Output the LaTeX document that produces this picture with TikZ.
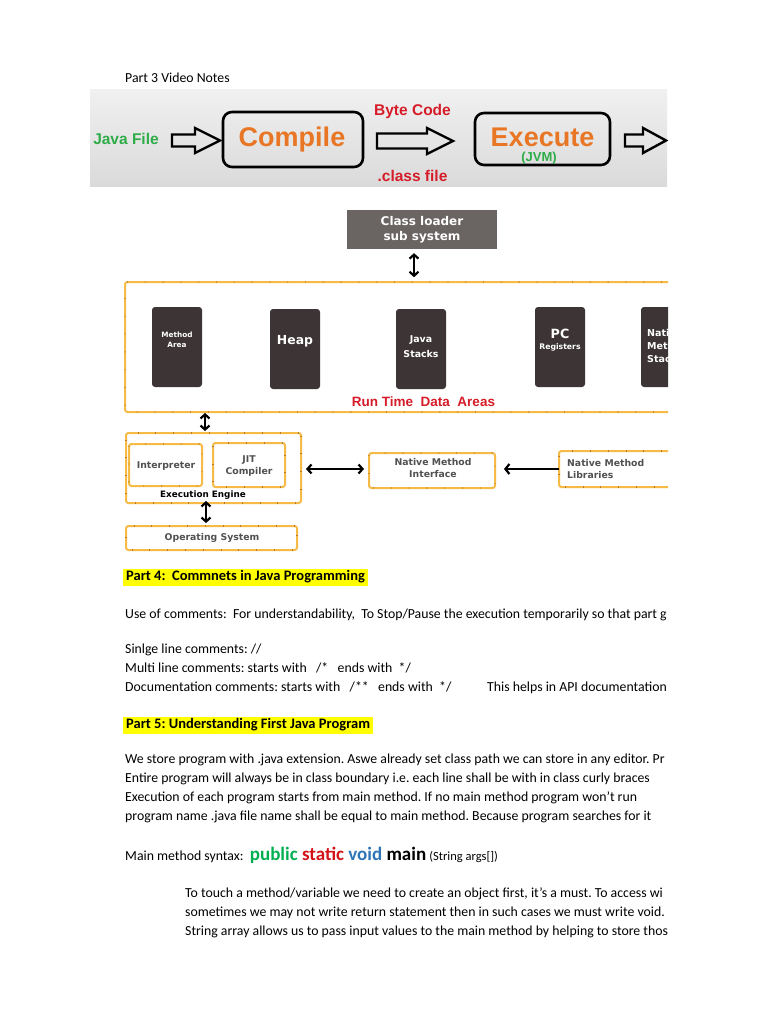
\documentclass[tikz,border=0pt]{standalone}
\usepackage{fontspec}
\setmainfont{Carlito}
\newfontfamily\arialf{Liberation Sans}
\newfontfamily\verd{DejaVu Sans}
\usetikzlibrary{arrows.meta}
\definecolor{orangeB}{RGB}{246,186,70}
\definecolor{tickc}{RGB}{175,125,45}
\definecolor{darkbox}{RGB}{61,53,53}
\definecolor{clsbox}{RGB}{106,100,99}
\definecolor{txtorange}{RGB}{232,118,36}
\definecolor{jgreen}{RGB}{45,172,72}
\definecolor{jred}{RGB}{214,28,40}
\definecolor{gtxt}{RGB}{80,80,80}
\definecolor{hlyellow}{RGB}{255,255,0}
\definecolor{pubgreen}{RGB}{0,176,80}
\definecolor{statred}{RGB}{210,20,25}
\definecolor{voidblue}{RGB}{46,117,182}
\definecolor{bannerA}{RGB}{240,240,240}
\definecolor{bannerB}{RGB}{218,218,218}
\begin{document}
\begin{tikzpicture}[x=1pt,y=-1pt,
  body/.style={anchor=base west, inner sep=0pt, font=\frenchspacing\fontsize{13.8}{19.4}\selectfont},
  head/.style={anchor=base west, inner xsep=3pt, inner ysep=2.5pt, text height=8.5pt, text depth=3pt, fill=hlyellow, font=\frenchspacing\bfseries\fontsize{14.5}{19.4}\selectfont},
  blackbox/.style={draw=black, line width=2.6pt, rounded corners=9pt, inner sep=0pt},
  blockarrow/.style={draw=black, line width=2.4pt, line join=miter},
  bantext/.style={inner sep=0pt, font=\arialf\bfseries},
  darkrect/.style={fill=darkbox, rounded corners=3pt, inner sep=0pt, minimum width=50pt, minimum height=80pt},
  darklabel/.style={inner sep=0pt, text=white, align=center},
  obox/.style={draw=orangeB, line width=2pt, rounded corners=2.5pt, inner sep=0pt,
     postaction={draw=tickc, line width=1.2pt, dash pattern=on 0.8pt off 17pt}},
  olabel/.style={inner sep=0pt, text=gtxt, align=center, font=\verd\bfseries\fontsize{9.3}{12}\selectfont},
  dbl/.style={draw=black, line width=2.2pt, {Straight Barb[length=4pt,width=9pt]}-{Straight Barb[length=4pt,width=9pt]}},
  sgl/.style={draw=black, line width=2.2pt, -{Straight Barb[length=4pt,width=10pt]}}
]
\useasboundingbox (0,0) rectangle (768,1024);
\fill[white] (0,0) rectangle (768,1024);
\begin{scope}
\clip (0,0) rectangle (668,1024);

% ---------- title ----------
\node[body] (t3) at (125,83) {Part 3 Video Notes};

% ---------- banner ----------
\node[inner sep=0pt, minimum width=577pt, minimum height=97pt, top color=bannerA, bottom color=bannerB] (banner) at (378.5,138.5) {};
\node[bantext, text=jgreen, font=\arialf\bfseries\fontsize{15.5}{18}\selectfont] (jf) at (126,139) {Java File};
\draw[blockarrow] (172,134.5) -- (195,134.5) -- (195,128) -- (220,140.5) -- (195,153) -- (195,146.5) -- (172,146.5) -- cycle;
\node[blackbox, minimum width=140pt, minimum height=55pt] (comp) at (293,139.5) {};
\node[bantext, text=txtorange, font=\arialf\bfseries\fontsize{27}{30}\selectfont] (compt) at (292,139.5) {Compile};
\node[bantext, text=jred, font=\arialf\bfseries\fontsize{15.5}{18}\selectfont] (bc) at (412.5,111) {Byte Code};
\node[bantext, text=jred, font=\arialf\bfseries\fontsize{15.5}{18}\selectfont] (cf) at (412.5,176) {.class file};
\draw[blockarrow] (377,133.5) -- (427,133.5) -- (427,128) -- (453,141) -- (427,154) -- (427,148.5) -- (377,148.5) -- cycle;
\node[blackbox, minimum width=135pt, minimum height=52pt] (exe) at (542.5,139) {};
\node[bantext, text=txtorange, font=\arialf\bfseries\fontsize{27}{30}\selectfont] (exet) at (542.5,137.5) {Execute};
\node[bantext, text=jgreen, font=\arialf\bfseries\fontsize{13}{15}\selectfont] (jvm) at (539,158.5) {(JVM)};
\draw[blockarrow] (625,134.5) -- (643,134.5) -- (643,128) -- (666,140.5) -- (643,153) -- (643,146.5) -- (625,146.5) -- cycle;

% ---------- JVM architecture ----------
\node[fill=clsbox, inner sep=0pt, minimum width=150pt, minimum height=39pt, text=white, align=center,
      font=\verd\bfseries\fontsize{12}{15}\selectfont] (cl) at (422,229.5) {Class loader\\sub system};
\node[obox, minimum width=575pt, minimum height=130pt] (rt) at (412.5,347) {};
\draw[dbl] ([xshift=-8pt,yshift=-4pt]cl.south) -- ([xshift=-8pt,yshift=-28pt]cl.south);

\node[darkrect] (ma) at (177,347) {};
\node[darkrect] (hp) at (295,349) {};
\node[darkrect] (js) at (421,349) {};
\node[darkrect] (pc) at (560,347) {};
\node[darkrect] (ns) at (666,347) {};
\node[darklabel, font=\verd\bfseries\fontsize{7.3}{10}\selectfont] (mat) at (177,340) {Method\\Area};
\node[darklabel, font=\verd\bfseries\fontsize{12.4}{14}\selectfont] (hpt) at (295,341) {Heap};
\node[darklabel, font=\verd\bfseries\fontsize{9.4}{15}\selectfont] (jst) at (421,346.5) {Java\\Stacks};
\node[darklabel, font=\verd\bfseries\fontsize{12.7}{14}\selectfont] (pct) at (560,334) {PC};
\node[darklabel, font=\verd\bfseries\fontsize{7.7}{10}\selectfont] (pcr) at (560,347) {Registers};
\node[darklabel, anchor=west, align=left, font=\verd\bfseries\fontsize{9.5}{13}\selectfont] (nst) at (647,346) {Native\\Method\\Stacks};
\node[inner sep=0pt, text=jred, font=\arialf\bfseries\fontsize{13.5}{15}\selectfont] (rtt) at (423.5,402) {Run Time\ \ Data\ \ Areas};

\node[obox, minimum width=175pt, minimum height=70pt] (ee) at (213.5,468) {};
\node[obox, minimum width=73pt, minimum height=42pt] (ip) at (165.5,465) {};
\node[obox, minimum width=72pt, minimum height=44pt] (jit) at (249,465) {};
\node[olabel] (ipt) at (166,466) {Interpreter};
\node[olabel] (jitt) at (249,466) {JIT\\Compiler};
\node[inner sep=0pt, text=black, font=\verd\bfseries\fontsize{8.8}{10}\selectfont] (eet) at (203,495) {Execution Engine};
\node[obox, minimum width=171pt, minimum height=24pt] (os) at (211.5,538) {};
\node[olabel] (ost) at (212,538) {Operating System};
\node[obox, minimum width=126pt, minimum height=35pt] (nmi) at (432,470.5) {};
\node[olabel] (nmit) at (433,468) {Native Method\\Interface};
\node[obox, minimum width=141pt, minimum height=36pt] (nml) at (629.5,469) {};
\node[olabel, anchor=west, align=left] (nmlt) at (567,469.5) {Native Method\\Libraries};

\draw[dbl] ([xshift=-8.5pt,yshift=1pt]ee.north) -- ([xshift=-8.5pt,yshift=19pt]ee.north);
\draw[dbl] ([xshift=-7.5pt,yshift=3pt]ee.south) -- ([xshift=-5.5pt,yshift=2pt]os.north);
\draw[dbl] ([xshift=4pt,yshift=-1pt]ee.east) -- ([xshift=-4pt,yshift=1.5pt]nmi.west);
\draw[sgl] ([xshift=1pt]nml.west) -- ([xshift=8pt,yshift=1.5pt]nmi.east);

% ---------- text ----------
\node[head] (p4) at (123,580) {Part 4:\ \ Commnets in Java Programming};
\node[body] (l1) at (125,618) {Use of comments:\ \ For understandability,\ \ To Stop/Pause the execution temporarily so that part g};
\node[body] (l2) at (125,653) {Sinlge line comments: //};
\node[body] (l3) at (125,672) {Multi line comments: starts with\ \ \ /*\ \ \ ends with\ \ */};
\node[body] (l4) at (125,691) {Documentation comments: starts with\ \ \ /**\ \ \ ends with\ \ */};
\node[body] (l4b) at (487,691) {This helps in API documentation};
\node[head] (p5) at (123,728) {Part 5: Understanding First Java Program};
\node[body] (l5) at (125,763) {We store program with .java extension. Aswe already set class path we can store in any editor. Pr};
\node[body] (l6) at (125,782) {Entire program will always be in class boundary i.e. each line shall be with in class curly braces};
\node[body] (l7) at (125,801) {Execution of each program starts from main method. If no main method program won't run};
\node[body] (l8) at (125,820) {program name .java file name shall be equal to main method. Because program searches for it};
\node[body] (l9) at (125,860) {Main method syntax:\ \ {\bfseries\fontsize{19}{20}\selectfont\color{pubgreen}public\ \color{statred}static\ \color{voidblue}void\ \color{black}main}\ {\fontsize{12.5}{14}\selectfont(String args[])}};
\node[body] (l10) at (185,897) {To touch a method/variable we need to create an object first, it’s a must. To access wi};
\node[body] (l11) at (185,916) {sometimes we may not write return statement then in such cases we must write void.};
\node[body] (l12) at (185,935) {String array allows us to pass input values to the main method by helping to store thos};
\end{scope}
\end{tikzpicture}
\end{document}
